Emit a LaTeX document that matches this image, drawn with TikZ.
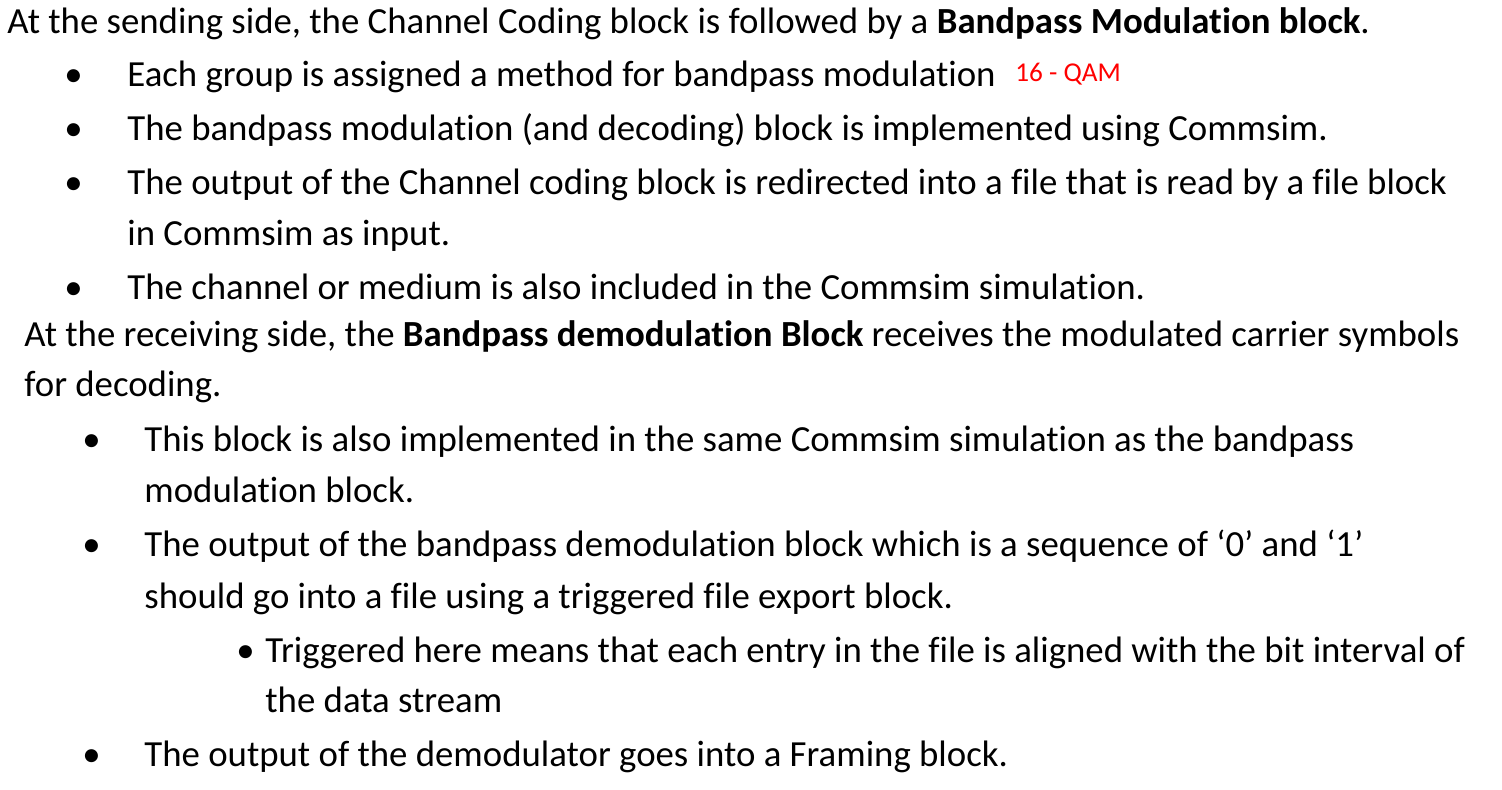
\documentclass[tikz,border=0pt]{standalone}
\usepackage{fontspec}
\setmainfont[Ligatures=CommonOff]{Carlito}
\begin{document}
\begin{tikzpicture}[x=0.5pt,y=-0.5pt,
  t/.style={anchor=base west,inner sep=0pt,font=\fontsize{18.4}{22}\selectfont},
  bl/.style={anchor=base west,inner sep=0pt,font=\fontsize{18.4}{22}\selectfont}]
\useasboundingbox (0,0) rectangle (1502,789);
\node[t] (l1) at (7,33) {At the sending side, the Channel Coding block is followed by a \textbf{Bandpass Modulation block}.};
\node[bl] (b1) at (64,86) {\textbullet};
\node[t] (l2) at (127,86) {Each group is assigned a method for bandpass modulation};
\node[anchor=base west,inner sep=0pt,text=red,font=\fontsize{13.6}{16}\selectfont] (qam) at (1015,81) {16 - QAM};
\node[bl] (b2) at (64,140) {\textbullet};
\node[t] (l3) at (127,140) {The bandpass modulation (and decoding) block is implemented using Commsim.};
\node[bl] (b3) at (64,194) {\textbullet};
\node[t] (l4) at (127,194) {The output of the Channel coding block is redirected into a file that is read by a file block};
\node[t] (l5) at (127,245) {in Commsim as input.};
\node[bl] (b4) at (64,299) {\textbullet};
\node[t] (l6) at (127,299) {The channel or medium is also included in the Commsim simulation.};
\node[t] (l7) at (24,346) {At the receiving side, the \textbf{Bandpass demodulation Block} receives the modulated carrier symbols};
\node[t] (l8) at (24,396) {for decoding.};
\node[bl] (b5) at (82,451) {\textbullet};
\node[t] (l9) at (144,451) {This block is also implemented in the same Commsim simulation as the bandpass};
\node[t] (l10) at (144,502) {modulation block.};
\node[bl] (b6) at (82,556) {\textbullet};
\node[t] (l11) at (144,556) {The output of the bandpass demodulation block which is a sequence of ‘0’ and ‘1’};
\node[t] (l12) at (144,608) {should go into a file using a triggered file export block.};
\node[bl] (b7) at (236,662) {\textbullet};
\node[t] (l13) at (265,662) {Triggered here means that each entry in the file is aligned with the bit interval of};
\node[t] (l14) at (265,712) {the data stream};
\node[bl] (b8) at (82,766) {\textbullet};
\node[t] (l15) at (144,766) {The output of the demodulator goes into a Framing block.};
\end{tikzpicture}
\end{document}
